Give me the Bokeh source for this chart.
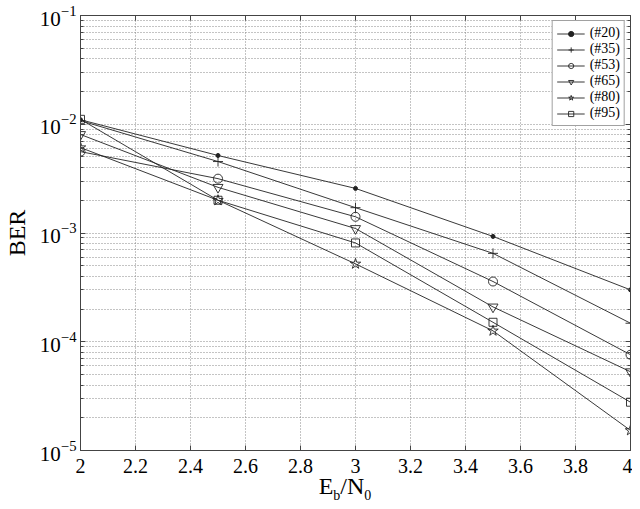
from bokeh.plotting import figure
from bokeh.models import (FixedTicker, LogAxis, LinearAxis, Range1d, Legend, LegendItem,
                          NumeralTickFormatter, CustomJSTickFormatter, Div)
from bokeh.layouts import column
from bokeh.embed import file_html
from bokeh.resources import INLINE

x = [2.0, 2.5, 3.0, 3.5, 4.0]
series_names = ["(#20)", "(#35)", "(#53)", "(#65)", "(#80)", "(#95)"]
ber_20 = [1.10e-2, 5.16e-3, 2.57e-3, 9.3e-4, 3.0e-4]
ber_35 = [1.08e-2, 4.54e-3, 1.71e-3, 6.5e-4, 1.48e-4]
ber_53 = [5.6e-3, 3.16e-3, 1.41e-3, 3.58e-4, 7.6e-5]
ber_65 = [8.05e-3, 2.63e-3, 1.10e-3, 2.09e-4, 5.3e-5]
ber_80 = [6.1e-3, 2.0e-3, 5.2e-4, 1.26e-4, 1.53e-5]
ber_95 = [1.11e-2, 2.0e-3, 8.1e-4, 1.51e-4, 2.78e-5]
x_ticks = [2.0, 2.2, 2.4, 2.6, 2.8, 3.0, 3.2, 3.4, 3.6, 3.8, 4.0]
y_major = [1e-5, 1e-4, 1e-3, 1e-2, 1e-1]
y_minor = [m * d for d in [1e-5, 1e-4, 1e-3, 1e-2] for m in range(2, 10)]

FONT = "Liberation Serif"
AX = "#444444"

p = figure(frame_width=550, frame_height=435, y_axis_type="log",
           x_range=Range1d(2, 4), y_range=Range1d(1e-5, 1e-1),
           output_backend="svg", toolbar_location=None,
           min_border_left=70, min_border_right=2, min_border_top=15, min_border_bottom=10,
           background_fill_color="white", border_fill_color="white")
p.outline_line_color = AX

yt = FixedTicker(ticks=y_major, minor_ticks=y_minor)
xt = FixedTicker(ticks=x_ticks, minor_ticks=[])

p.xaxis.ticker = xt
p.xaxis.formatter = NumeralTickFormatter(format="0.[0]")
p.yaxis.ticker = yt
for ax in (p.xaxis[0], p.yaxis[0]):
    ax.major_tick_in = 5
    ax.major_tick_out = 0
    ax.minor_tick_in = 3
    ax.minor_tick_out = 0
    ax.axis_line_color = AX
    ax.major_tick_line_color = AX
    ax.minor_tick_line_color = AX
    ax.major_label_text_font = FONT
    ax.major_label_text_color = "black"
    ax.axis_label_text_font = FONT
    ax.axis_label_text_font_style = "normal"
    ax.axis_label_text_font_size = "24px"
    ax.axis_label_text_color = "black"
p.xaxis.major_label_text_font_size = "20px"
p.yaxis.major_label_text_font_size = "21px"
p.xaxis.major_label_standoff = 8
p.yaxis.major_label_standoff = 4
p.yaxis.axis_label = "BER"
p.yaxis.axis_label_standoff = 7

blank = CustomJSTickFormatter(code="return ''")
ra = LogAxis(ticker=yt, major_tick_in=5, major_tick_out=0, minor_tick_in=3, minor_tick_out=0,
             formatter=blank, axis_line_color=AX,
             major_tick_line_color=AX, minor_tick_line_color=AX, major_label_standoff=0)
ta = LinearAxis(ticker=xt, major_tick_in=5, major_tick_out=0, minor_tick_in=0, minor_tick_out=0,
                formatter=blank, axis_line_color=AX,
                major_tick_line_color=AX, major_label_standoff=0)
p.add_layout(ra, "right")
p.add_layout(ta, "above")

p.xgrid.ticker = xt
p.ygrid.ticker = yt
for g in (p.xgrid[0], p.ygrid[0]):
    g.grid_line_color = "#888888"
    g.grid_line_dash = "1 2"
    g.grid_line_width = 1
p.ygrid.minor_grid_line_color = "#888888"
p.ygrid.minor_grid_line_dash = "1 2"
p.ygrid.minor_grid_line_width = 1

markers = [("dot", 4), ("cross", 10), ("circle", 9), ("inverted_triangle", 10), ("star", 11), ("square", 8)]
data = [ber_20, ber_35, ber_53, ber_65, ber_80, ber_95]
items = []
LC = "#222222"
for name, ys, (mk, sz) in zip(series_names, data, markers):
    l = p.line(x, ys, line_color=LC, line_width=0.9)
    if mk == "dot":
        s = p.scatter(x, ys, marker="circle", size=sz, fill_color=LC, line_color=LC)
    else:
        s = p.scatter(x, ys, marker=mk, size=sz, fill_color=None, line_color=LC, line_width=0.9)
    items.append(LegendItem(label=name, renderers=[l, s]))

leg = Legend(items=items, location="top_right", margin=5, padding=4, spacing=0,
             label_text_font=FONT, label_text_font_size="14px", label_height=13,
             label_text_line_height=0.9, label_text_color="black",
             glyph_height=13, glyph_width=28, label_standoff=5,
             border_line_color=AX, border_line_width=1, background_fill_alpha=1)
p.add_layout(leg, "center")

xlabel = Div(text="E<sub style='font-size:14px'>b</sub>/N<sub style='font-size:14px'>0</sub>",
             width=550, height=24, margin=(0, 0, 0, 70),
             styles={"text-align": "center", "font-family": FONT, "font-size": "24px",
                     "color": "black", "line-height": "22px"})

layout = column(p, xlabel, spacing=0)
open("out.html", "w").write(file_html(layout, INLINE))
